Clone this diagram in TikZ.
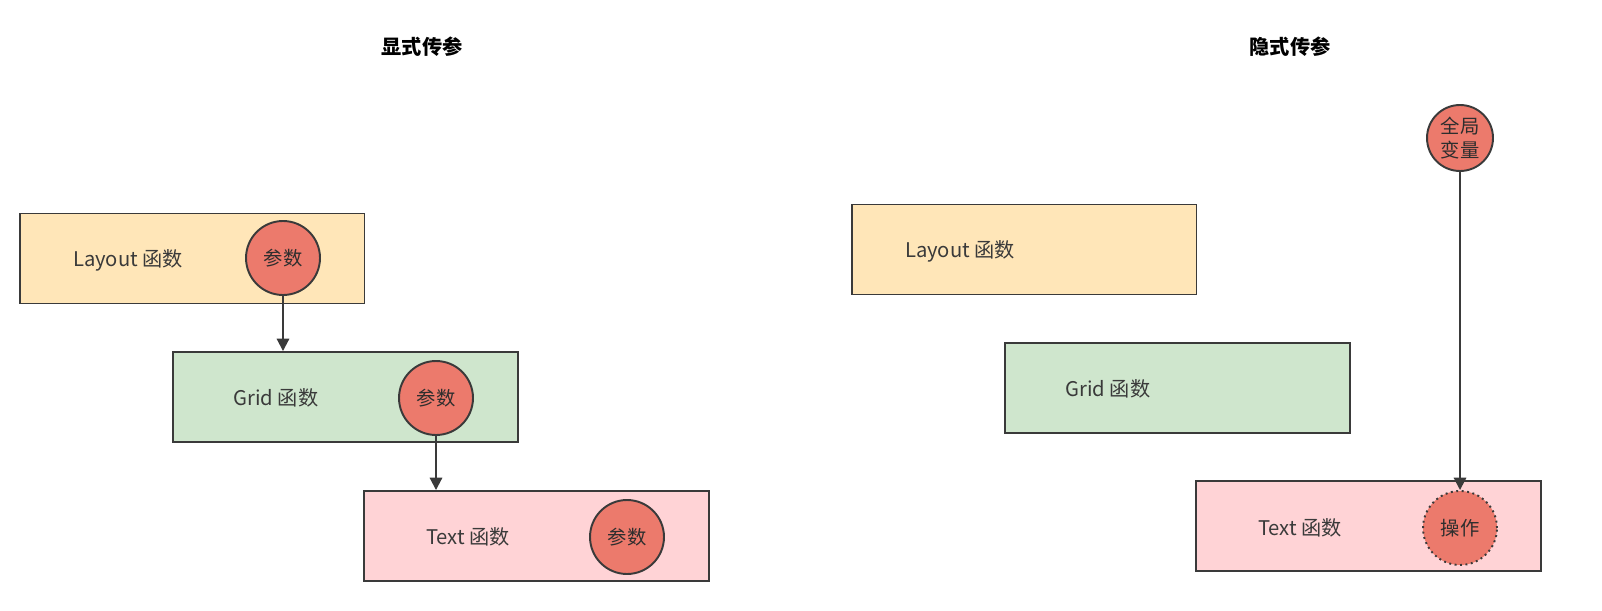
\documentclass[tikz,border=0pt]{standalone}
\usepackage{fontspec}
\setmainfont{Noto Sans CJK SC}
\usetikzlibrary{arrows.meta}
\definecolor{lo}{HTML}{FFE6B8}
\definecolor{gr}{HTML}{CFE6CD}
\definecolor{pk}{HTML}{FFD3D6}
\definecolor{rc}{HTML}{EC7A6C}
\definecolor{ln}{HTML}{3A3A3A}
\begin{document}
\begin{tikzpicture}[x=0.02cm,y=-0.02cm,
  box/.style={draw=ln,line width=1.1pt,minimum width=6.9cm,minimum height=1.8cm,inner sep=0},
  circ/.style={circle,draw=ln,fill=rc,line width=1.1pt,minimum size=1.48cm,inner sep=0,font=\fontsize{11}{13}\selectfont,text=ln!80!black},
  lab/.style={font=\fontsize{11.5}{13}\selectfont,text=ln},
  arr/.style={draw=ln,line width=1.1pt,-{Triangle[length=7pt,width=7pt]}}]
\useasboundingbox (0,0) rectangle (1602,611);
\node[font=\bfseries\fontsize{11.5}{13}\selectfont] (t1) at (422,47) {显式传参};
\node[font=\bfseries\fontsize{11.5}{13}\selectfont] (t2) at (1290,47) {隐式传参};
% left
\node[box,fill=lo] (l1) at (192,258.5) {};
\node[box,fill=gr] (g1) at (345.5,397) {};
\node[box,fill=pk] (x1) at (536.5,536) {};
\node[lab] (l1t) at (128,260) {Layout 函数};
\node[lab] (g1t) at (276,398) {Grid 函数};
\node[lab] (x1t) at (468,537) {Text 函数};
\node[circ] (c1) at (283,258) {参数};
\node[circ] (c2) at (436,398) {参数};
\node[circ] (c3) at (627,537) {参数};
\draw[arr] (c1.south) -- (c1.south |- g1.north);
\draw[arr] (c2.south) -- (c2.south |- x1.north);
% right
\node[box,fill=lo] (l2) at (1024,249.5) {};
\node[box,fill=gr] (g2) at (1177.5,388) {};
\node[box,fill=pk] (x2) at (1368.5,526) {};
\node[lab] (l2t) at (960,251) {Layout 函数};
\node[lab] (g2t) at (1108,389) {Grid 函数};
\node[lab] (x2t) at (1300,528) {Text 函数};
\node[circ,minimum size=1.32cm,align=center,font=\fontsize{11}{14}\selectfont] (gv) at (1460,138) {全局\\变量};
\node[circ,dotted] (op) at (1460,528) {操作};
\draw[arr] (gv.south) -- (op.north);
\end{tikzpicture}
\end{document}
